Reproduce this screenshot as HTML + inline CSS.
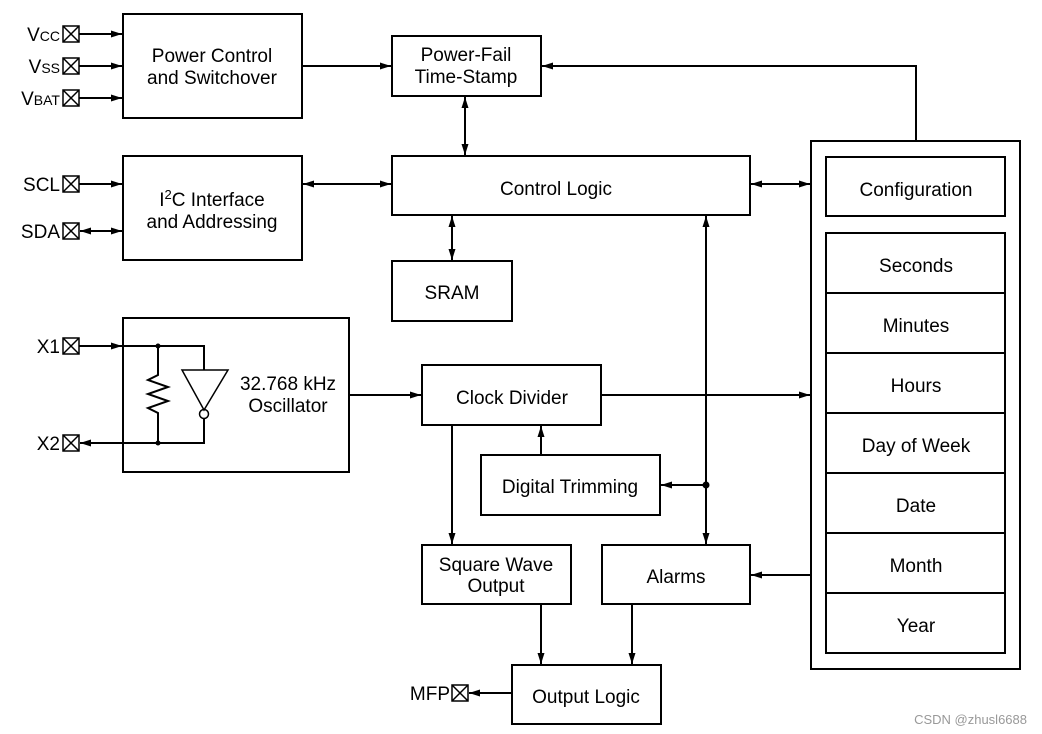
<!DOCTYPE html>
<html><head><meta charset="utf-8"><style>
html,body{margin:0;padding:0;background:#fff;}
svg{display:block;}
text{font-family:"Liberation Sans",Arial,sans-serif;font-size:19px;fill:#000;}
</style></head><body>
<svg width="1042" height="734" viewBox="0 0 1042 734" xmlns="http://www.w3.org/2000/svg">
<defs>
<marker id="a" markerUnits="userSpaceOnUse" markerWidth="12" markerHeight="10" refX="11" refY="5" orient="auto-start-reverse"><path d="M0,1.5 L11,5 L0,8.5 Z" fill="#000"/></marker>
</defs>
<g fill="none" stroke="#000" stroke-width="2">
<rect x="123" y="14" width="179" height="104"/>
<rect x="392" y="36" width="149" height="60"/>
<rect x="392" y="156" width="358" height="59"/>
<rect x="123" y="156" width="179" height="104"/>
<rect x="392" y="261" width="120" height="60"/>
<rect x="123" y="318" width="226" height="154"/>
<rect x="422" y="365" width="179" height="60"/>
<rect x="481" y="455" width="179" height="60"/>
<rect x="422" y="545" width="149" height="59"/>
<rect x="602" y="545" width="148" height="59"/>
<rect x="512" y="665" width="149" height="59"/>
<rect x="811" y="141" width="209" height="528"/>
<rect x="826" y="157" width="179" height="59"/>
<rect x="826" y="233" width="179" height="420"/>
<path d="M826 293H1005M826 353H1005M826 413H1005M826 473H1005M826 533H1005M826 593H1005"/>
</g>
<g fill="none" stroke="#000" stroke-width="1.5">
<rect x="63" y="26" width="16" height="16"/><path d="M63 26L79 42M79 26L63 42"/>
<rect x="63" y="58" width="16" height="16"/><path d="M63 58L79 74M79 58L63 74"/>
<rect x="63" y="90" width="16" height="16"/><path d="M63 90L79 106M79 90L63 106"/>
<rect x="63" y="176" width="16" height="16"/><path d="M63 176L79 192M79 176L63 192"/>
<rect x="63" y="223" width="16" height="16"/><path d="M63 223L79 239M79 223L63 239"/>
<rect x="63" y="338" width="16" height="16"/><path d="M63 338L79 354M79 338L63 354"/>
<rect x="63" y="435" width="16" height="16"/><path d="M63 435L79 451M79 435L63 451"/>
<rect x="452" y="685" width="16" height="16"/><path d="M452 685L468 701M468 685L452 701"/>
</g>
<g fill="none" stroke="#000" stroke-width="2">
<path d="M79 34H122" marker-end="url(#a)"/>
<path d="M79 66H122" marker-end="url(#a)"/>
<path d="M79 98H122" marker-end="url(#a)"/>
<path d="M79 184H122" marker-end="url(#a)"/>
<path d="M80 231H122" marker-start="url(#a)" marker-end="url(#a)"/>
<path d="M302 66H391" marker-end="url(#a)"/>
<path d="M916 141V66H542" marker-end="url(#a)"/>
<path d="M465 97V155" marker-start="url(#a)" marker-end="url(#a)"/>
<path d="M303 184H391" marker-start="url(#a)" marker-end="url(#a)"/>
<path d="M751 184H810" marker-start="url(#a)" marker-end="url(#a)"/>
<path d="M452 216V260" marker-start="url(#a)" marker-end="url(#a)"/>
<path d="M349 395H421" marker-end="url(#a)"/>
<path d="M601 395H810" marker-end="url(#a)"/>
<path d="M706 216V544" marker-start="url(#a)" marker-end="url(#a)"/>
<path d="M706 485H661" marker-end="url(#a)"/>
<path d="M541 455V426" marker-end="url(#a)"/>
<path d="M452 425V544" marker-end="url(#a)"/>
<path d="M811 575H751" marker-end="url(#a)"/>
<path d="M541 604V664" marker-end="url(#a)"/>
<path d="M632 604V664" marker-end="url(#a)"/>
<path d="M512 693H469" marker-end="url(#a)"/>
<path d="M79 346H122" marker-end="url(#a)"/>
<path d="M123 346H204V370"/>
<path d="M158 346V375L148 380L168 387L148 394L168 401L148 408L158 413V443"/>
<path d="M182 370H228L204 410Z" stroke-width="1.5"/>
<circle cx="204" cy="414" r="4.5" stroke-width="1.5"/>
<path d="M204 419V443H80" marker-end="url(#a)"/>
</g>
<circle cx="158" cy="346" r="2.5"/><circle cx="158" cy="443" r="2.5"/>
<circle cx="706" cy="485" r="3.5"/>
<g text-anchor="middle">
<text x="212" y="62">Power Control</text>
<text x="212" y="84">and Switchover</text>
<text x="466" y="61">Power-Fail</text>
<text x="466" y="83">Time-Stamp</text>
<text x="556" y="195">Control Logic</text>
<text x="212" y="206">I<tspan dy="-7" font-size="13">2</tspan><tspan dy="7">C Interface</tspan></text>
<text x="212" y="228">and Addressing</text>
<text x="452" y="299">SRAM</text>
<text x="288" y="390">32.768 kHz</text>
<text x="288" y="412">Oscillator</text>
<text x="512" y="404">Clock Divider</text>
<text x="570" y="493">Digital Trimming</text>
<text x="496" y="571">Square Wave</text>
<text x="496" y="592">Output</text>
<text x="676" y="583">Alarms</text>
<text x="586" y="703">Output Logic</text>
<text x="916" y="196">Configuration</text>
<text x="916" y="272">Seconds</text>
<text x="916" y="332">Minutes</text>
<text x="916" y="392">Hours</text>
<text x="916" y="452">Day of Week</text>
<text x="916" y="512">Date</text>
<text x="916" y="572">Month</text>
<text x="916" y="632">Year</text>
</g>
<g text-anchor="end">
<text x="60" y="41">V<tspan font-size="14">CC</tspan></text>
<text x="60" y="73">V<tspan font-size="14">SS</tspan></text>
<text x="60" y="105">V<tspan font-size="14">BAT</tspan></text>
<text x="60" y="191">SCL</text>
<text x="60" y="238">SDA</text>
<text x="60" y="353">X1</text>
<text x="60" y="450">X2</text>
<text x="450" y="700">MFP</text>
</g>
<text x="1027" y="724" text-anchor="end" style="font-size:13px;fill:#999">CSDN @zhusl6688</text>
</svg>
</body></html>
